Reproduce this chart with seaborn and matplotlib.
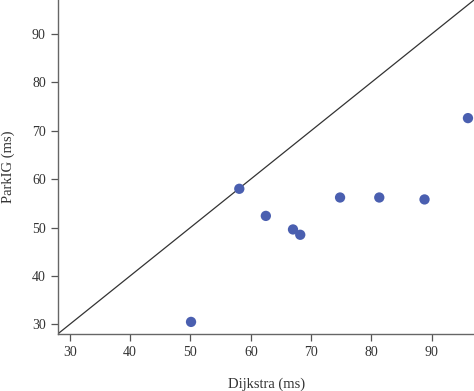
import matplotlib
matplotlib.use("Agg")
import matplotlib.pyplot as plt
import seaborn as sns
import pandas as pd

# Values
dijkstra = [50.1, 58.1, 62.5, 67.0, 68.2, 74.8, 81.3, 88.8, 96.0]
parkig = [30.5, 58.0, 52.4, 49.6, 48.5, 56.2, 56.2, 55.8, 72.6]
ticks = [30, 40, 50, 60, 70, 80, 90]
lims = [28.1, 97.0]

df = pd.DataFrame({"Dijkstra (ms)": dijkstra, "ParkIG (ms)": parkig})

sns.set_style("ticks")
plt.rcParams["font.family"] = ["Liberation Serif", "DejaVu Serif"]

fig = plt.figure(figsize=(4.74, 3.91), dpi=100)
ax = fig.add_axes([0.123, 0.147, 0.877, 0.853])

# y = x reference line
ax.plot(lims, lims, color="#333333", linewidth=0.9, zorder=1)
sns.scatterplot(data=df, x="Dijkstra (ms)", y="ParkIG (ms)", ax=ax,
                color="#4a5fb0", s=55, edgecolor="none", zorder=3)

ax.set_xlim(lims)
ax.set_ylim(lims)
ax.set_xticks(ticks)
ax.set_yticks(ticks)
ax.tick_params(axis="both", labelsize=10, length=5, width=0.9,
               color="#555555", labelcolor="#333333", pad=4)
for side in ["right", "top"]:
    ax.spines[side].set_visible(False)
for side in ["left", "bottom"]:
    ax.spines[side].set_color("#666666")
    ax.spines[side].set_linewidth(1.0)

ax.set_xlabel("Dijkstra (ms)", fontsize=10.5, color="#333333", labelpad=13)
ax.set_ylabel("ParkIG (ms)", fontsize=10.5, color="#333333", labelpad=12)

fig.savefig("out.png", dpi=100)
